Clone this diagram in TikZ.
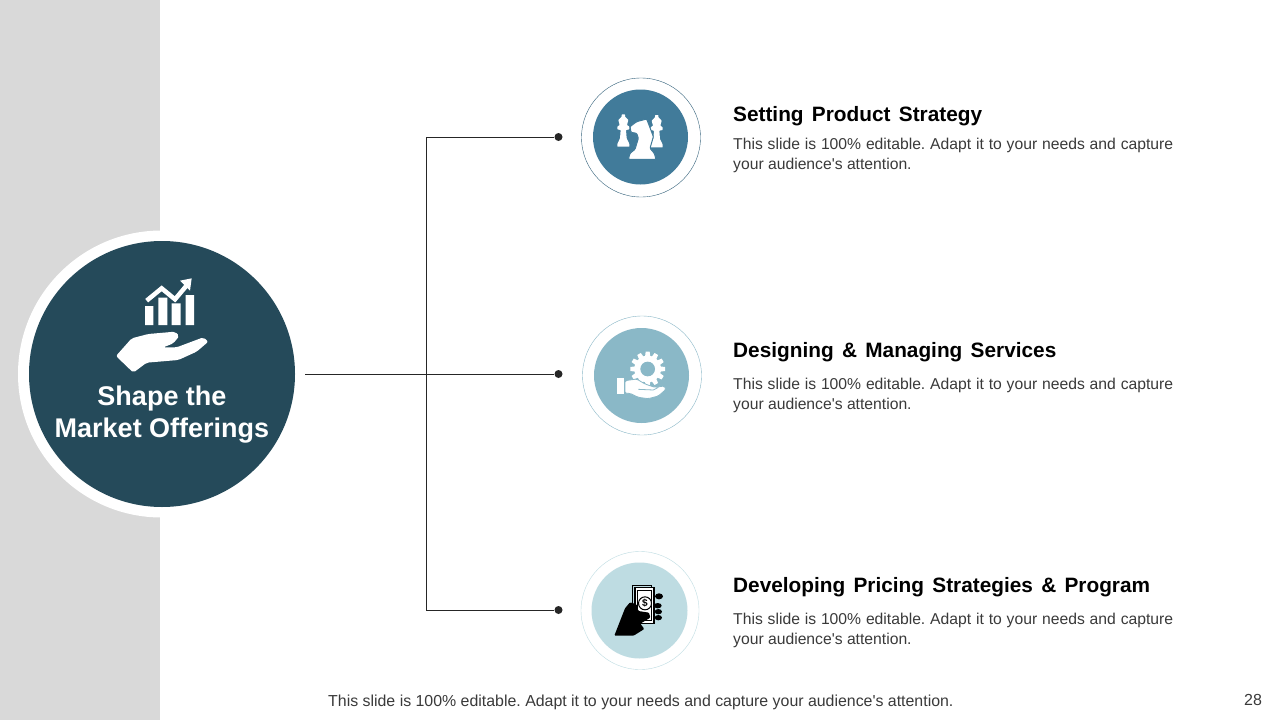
\documentclass[tikz,border=0pt]{standalone}
\usepackage{fontspec}
\setmainfont{Liberation Sans}
\definecolor{sidegrey}{HTML}{D9D9D9}
\definecolor{hubdark}{HTML}{254A5A}
\definecolor{stepblue}{HTML}{417B9A}
\definecolor{stepmid}{HTML}{8AB8C7}
\definecolor{steplight}{HTML}{BEDCE2}
\definecolor{bodygrey}{HTML}{3A3A3A}
\newcommand{\wideword}{\spaceskip 8.3pt\relax}
\tikzset{
    disc/.style={circle, inner sep=0pt, minimum size=#1},
    dot/.style={circle, fill=black!85, inner sep=0pt, minimum size=8pt},
    heading/.style={anchor=west, inner sep=0pt, font=\fontsize{20.8}{24}\selectfont\bfseries\wideword},
    blurb/.style={anchor=north west, inner sep=0pt, text width=440pt, align=justify, text=bodygrey, font=\fontsize{15.7}{19.5}\selectfont\frenchspacing},
}
\begin{document}
\begin{tikzpicture}[x=1pt, y=-1pt]
    \useasboundingbox (0, 0) rectangle (1280, 720);
    \fill[white] (0, 0) rectangle (1280, 720);
    \fill[sidegrey] (0, 0) rectangle (160, 720);

    % left hub
    \node[disc=287pt, fill=white] (hubring) at (161.5, 374) {};
    \node[disc=266pt, fill=hubdark] (hub) at (162, 374) {};
    \node[align=center, text=white, font=\fontsize{27}{32}\selectfont\bfseries] (hubtext) at (162, 415) {Shape the\\Market Offerings};

    % rings on the right
    \node[disc=119pt, draw=stepblue!80!black, fill=white] (ring1) at (641, 137.5) {};
    \node[disc=95pt, fill=stepblue] (disc1) at (640.5, 137) {};
    \node[disc=119pt, draw=stepmid, fill=white] (ring2) at (642, 375.5) {};
    \node[disc=95pt, fill=stepmid] (disc2) at (641.5, 375.5) {};
    \node[disc=118pt, draw=steplight, fill=white] (ring3) at (640, 610.5) {};
    \node[disc=96pt, fill=steplight] (disc3) at (639.5, 610.5) {};

    % connectors
    \node[dot] (dot1) at (558.5, 137) {};
    \node[dot] (dot2) at (558.5, 374) {};
    \node[dot] (dot3) at (558.5, 610) {};
    \coordinate (trunk) at (426, 374);
    \draw[black!85, line width=0.8pt]
        (hubring.east) -- (dot2)
        (dot1) -| (trunk)
        (trunk) |- (dot3)
    ;

    % texts
    \node[heading] (title1) at (733, 116.5) {Setting Product Strategy};
    \node[blurb] (text1) at (733, 138) {This slide is 100\% editable. Adapt it to your needs and capture your audience\textquotesingle s attention.};
    \node[heading] (title2) at (733, 352.5) {Designing \& Managing Services};
    \node[blurb] (text2) at (733, 378) {This slide is 100\% editable. Adapt it to your needs and capture your audience\textquotesingle s attention.};
    \node[heading] (title3) at (733, 587.5) {Developing Pricing Strategies \& Program};
    \node[blurb] (text3) at (733, 613) {This slide is 100\% editable. Adapt it to your needs and capture your audience\textquotesingle s attention.};
    \node[anchor=west, inner sep=0pt, text=bodygrey, font=\fontsize{15.9}{20}\selectfont\frenchspacing] (footer) at (328, 702) {This slide is 100\% editable. Adapt it to your needs and capture your audience\textquotesingle s attention.};
    \node[inner sep=0pt, text=bodygrey, font=\fontsize{16}{20}\selectfont] (pagenum) at (1253, 700) {28};

    % hub icon
    \begin{scope}[shift={(90, 260)}, scale=1/3]
        \fill[white]
            (165, 138) rectangle (190, 195)
            (205, 113) rectangle (232, 195)
            (245, 130) rectangle (272, 195)
            (287, 105) rectangle (312, 195)
            (270, 62) -- (305, 55) -- (300, 92) -- cycle
        ;
        \fill[white, rounded corners=2pt]
            (78, 288) -- (125, 235) -- (175, 222) -- (255, 215) -- (268, 228) -- (250, 250)
                -- (220, 262) -- (260, 262) -- (340, 232) -- (355, 245) -- (320, 275)
                -- (265, 300) -- (170, 308) -- (130, 338) -- cycle;
        \draw[white, line width=4.5pt] (170, 122) -- (215, 85) -- (255, 118) -- (292, 74);
    \end{scope}

    % chess icon
    \begin{scope}[shift={(575, 70)}, scale=1/3]
        \foreach \kingx/\kingy in {0/0, 100/2} {
            \fill[white, shift={(\kingx, \kingy)}, rounded corners=0.5pt]
                (140, 133) -- (150, 133) -- (150, 140) -- (160, 150) -- (156, 165) -- (163, 170)
                -- (163, 178) -- (153, 180) -- (155, 205) -- (163, 222) -- (163, 230) -- (127, 230)
                -- (127, 222) -- (135, 205) -- (137, 180) -- (127, 178) -- (127, 170) -- (134, 165)
                -- (130, 150) -- (140, 140) -- cycle;
        }
        \fill[white, draw=stepblue, line width=1pt, rounded corners=1pt]
            (160, 268) -- (165, 250) -- (180, 238) -- (190, 205) -- (185, 190) -- (168, 187)
            -- (165, 170) -- (185, 155) -- (215, 147) -- (222, 165) -- (235, 200) -- (225, 235)
            -- (238, 250) -- (243, 268) -- cycle;
    \end{scope}

    % gear and hand icon
    \begin{scope}[shift={(575, 310)}, scale=1/3]
        \foreach \toothangle in {0, 30, ..., 330} {
            \fill[white, shift={(218, 177)}, rotate=\toothangle]
                (-8, -36) -- (-6, -52) -- (6, -52) -- (8, -36) -- cycle;
        }
        \fill[white] (218, 177) circle (40);
        \fill[stepmid] (218, 177) circle (22);
        \fill[white] (125, 203) rectangle (146, 253);
        \fill[white, draw=stepmid, line width=0.8pt, rounded corners=1.5pt]
            (150, 212) -- (185, 207) -- (210, 222) -- (240, 232) -- (268, 228) -- (273, 238)
            -- (250, 258) -- (220, 266) -- (190, 262) -- (165, 250) -- (150, 250) -- cycle;
        \draw[stepmid, line width=0.8pt] (190, 238) -- (235, 240) -- (250, 232);
    \end{scope}

    % money icon
    \begin{scope}[shift={(575, 545)}, scale=1/3]
        \draw[black, fill=steplight, line width=1pt] (171, 120) rectangle (228, 222);
        \draw[black, fill=white, line width=1.2pt] (180, 127) rectangle (237, 235);
        \draw[black, line width=0.8pt] (188, 135) rectangle (229, 226);
        \node[circle, draw=black, fill=white, line width=1pt, inner sep=0pt, minimum size=13pt, font=\fontsize{10}{10}\selectfont\bfseries] (banknote) at (210, 175) {\$};
        \fill[black, rounded corners=1pt]
            (118, 272) -- (150, 190) -- (165, 172) -- (185, 178) -- (190, 198) -- (222, 203)
            -- (226, 218) -- (196, 236) -- (208, 252) -- (176, 272) -- cycle;
        \fill[black]
            (252, 154) ellipse (12 and 9)
            (248, 182) ellipse (12 and 8)
            (250, 200) ellipse (11 and 8)
            (250, 218) ellipse (11 and 8)
        ;
    \end{scope}
\end{tikzpicture}
\end{document}
